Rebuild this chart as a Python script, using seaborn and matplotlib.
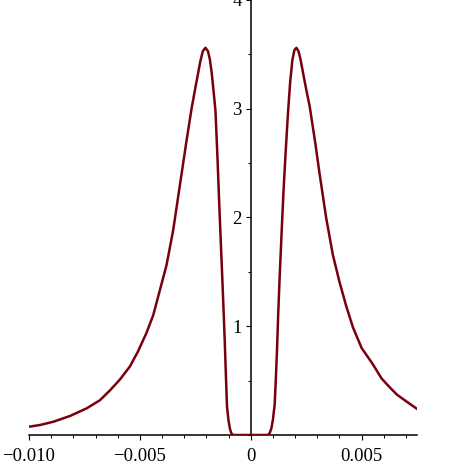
import matplotlib
matplotlib.use("Agg")
import matplotlib.pyplot as plt
import matplotlib.ticker as mticker
import seaborn as sns
import pandas as pd

# values
x_vals = [-0.0100, -0.0095, -0.0089, -0.00815, -0.0074, -0.0068, -0.00635,
          -0.0059, -0.00545, -0.00508, -0.0047, -0.0044, -0.0041, -0.0038,
          -0.0035, -0.00323, -0.0029, -0.00267, -0.0025, -0.00237, -0.00228,
          -0.00216, -0.00204, -0.00193, -0.00184, -0.00176, -0.00168, -0.00159,
          -0.00150, -0.00140, -0.00128, -0.00122, -0.00117, -0.00112, -0.00107,
          -0.00100, -0.00093, -0.00087, -0.0008,
          0.00078, 0.00085, 0.00093, 0.00100, 0.00108, 0.00114, 0.00119,
          0.00124, 0.0013, 0.00139, 0.00148, 0.00158, 0.00168, 0.00178,
          0.00188, 0.00197, 0.00206, 0.00215, 0.00224, 0.00236, 0.0025,
          0.00266, 0.0029, 0.0031, 0.0034, 0.0037, 0.0040, 0.0043, 0.00461,
          0.0050, 0.00551, 0.0059, 0.00626, 0.0066, 0.00701, 0.0075]
y_vals = [0.076, 0.092, 0.122, 0.175, 0.245, 0.32, 0.41,
          0.51, 0.63, 0.77, 0.94, 1.10, 1.33, 1.56,
          1.88, 2.25, 2.70, 3.00, 3.19, 3.33, 3.43,
          3.53, 3.56, 3.53, 3.45, 3.33, 3.17, 2.98,
          2.55, 2.02, 1.43, 1.12, 0.85, 0.55, 0.26,
          0.13, 0.05, 0.015, 0.0,
          0.0, 0.015, 0.06, 0.14, 0.28, 0.55, 0.81,
          1.12, 1.43, 1.85, 2.25, 2.62, 2.96, 3.25,
          3.45, 3.54, 3.56, 3.53, 3.46, 3.33, 3.18,
          3.02, 2.70, 2.41, 2.00, 1.66, 1.41, 1.19, 0.99,
          0.80, 0.65, 0.52, 0.44, 0.37, 0.31, 0.24]

x_ticks = [-0.010, -0.005, 0.0, 0.005]
x_tick_labels = ["\u22120.010", "\u22120.005", "0", "0.005"]
y_ticks = [1, 2, 3, 4]
y_tick_labels = ["1", "2", "3", "4"]

df = pd.DataFrame({"x": x_vals, "y": y_vals})

sns.set_style("white")
plt.rcParams["font.family"] = ["Liberation Serif", "DejaVu Serif"]

fig = plt.figure(figsize=(4.74, 4.74), dpi=100)
ax = fig.add_axes([0.0612, 0.0823, 0.8186, 0.9177])

sns.lineplot(data=df, x="x", y="y", ax=ax, color="#78000E", linewidth=1.8,
             estimator=None, sort=True, zorder=5)
ax.lines[0].set_solid_joinstyle("round")

ax.set_xlim(-0.010, 0.0075)
ax.set_ylim(0, 4)
ax.set_xlabel("")
ax.set_ylabel("")

for s in ["top", "right"]:
    ax.spines[s].set_visible(False)
ax.spines["left"].set_position(("data", 0))
ax.spines["bottom"].set_position(("data", 0))
for s in ["left", "bottom"]:
    ax.spines[s].set_color("black")
    ax.spines[s].set_linewidth(1.1)

ax.set_xticks(x_ticks)
ax.set_xticklabels(x_tick_labels)
ax.set_yticks(y_ticks)
ax.set_yticklabels(y_tick_labels)
ax.xaxis.set_minor_locator(mticker.MultipleLocator(0.001))
ax.yaxis.set_minor_locator(mticker.MultipleLocator(0.5))

ax.tick_params(axis="both", which="both", bottom=True, left=True,
               top=False, right=False)
ax.tick_params(axis="both", which="major", direction="out", length=3.5,
               width=0.8, color="black", labelsize=13.5, labelcolor="black")
ax.tick_params(axis="both", which="minor", direction="out", length=2.5,
               width=0.7, color="black")
ax.tick_params(axis="x", which="major", pad=6)
ax.tick_params(axis="y", which="major", pad=3)
ax.grid(False)
ax.patch.set_visible(False)

fig.savefig("out.png", dpi=100)
